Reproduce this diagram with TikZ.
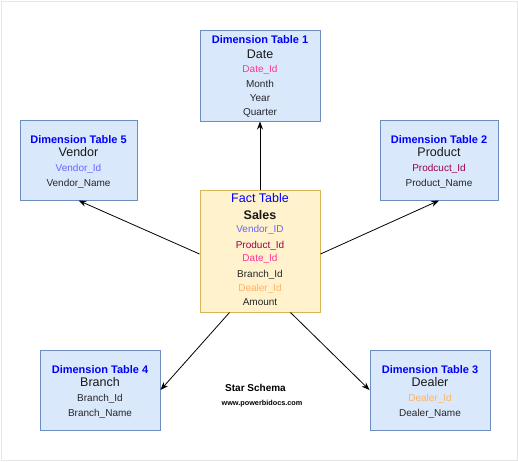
\documentclass[tikz,border=0pt]{standalone}
\usepackage{fontspec}
\setmainfont{Liberation Sans}
\usepackage{tikz}
\usetikzlibrary{arrows.meta}

\definecolor{dimfill}{HTML}{DAE8FC}
\definecolor{dimline}{HTML}{6C8EBF}
\definecolor{factfill}{HTML}{FFF2CC}
\definecolor{factline}{HTML}{D6B656}
\definecolor{headblue}{HTML}{0000FF}
\definecolor{vendorcol}{HTML}{6666FF}
\definecolor{productcol}{HTML}{99004D}
\definecolor{datecol}{HTML}{FF3399}
\definecolor{dealercol}{HTML}{FFB366}
\definecolor{framecol}{HTML}{E6E6E6}

\begin{document}
\begin{tikzpicture}[x=1pt, y=-1pt,
    dimbox/.style={draw=dimline, fill=dimfill, line width=1pt, inner sep=0pt},
    factbox/.style={draw=factline, fill=factfill, line width=1pt, inner sep=0pt},
    head/.style={anchor=base, inner sep=0pt, text=headblue, font=\fontsize{11}{13}\selectfont\bfseries},
    tname/.style={anchor=base, inner sep=0pt, text=black!90, font=\fontsize{12.5}{14}\selectfont},
    field/.style={anchor=base, inner sep=0pt, text=black!85, font=\fontsize{10}{12}\selectfont},
    link/.style={-{Stealth[length=8pt, width=6pt]}, line width=0.8pt}]
\useasboundingbox (0,0) rectangle (518,461);
\draw[framecol] (1,1) rectangle (517,460);

% dimension table 1
\node[dimbox, minimum width=120, minimum height=91] (date) at (260,75.5) {};
\node[head] (datehead) at (260,43) {Dimension Table 1};
\node[tname] (datename) at (260,58) {Date};
\node[field, text=datecol] (dateid) at (260,72) {Date\_Id};
\node[field] (datemonth) at (260,87.5) {Month};
\node[field] (dateyear) at (260,101) {Year};
\node[field] (datequarter) at (260,115.5) {Quarter};

% dimension table 5
\node[dimbox, minimum width=117, minimum height=80] (vendor) at (78.5,160) {};
\node[head] (vendorhead) at (78.5,143) {Dimension Table 5};
\node[tname] (vendorname) at (78.5,156.5) {Vendor};
\node[field, text=vendorcol] (vendorid) at (78.5,171.5) {Vendor\_Id};
\node[field] (vendorfield) at (78.5,186.5) {Vendor\_Name};

% dimension table 2
\node[dimbox, minimum width=118, minimum height=80] (product) at (439,160) {};
\node[head] (producthead) at (439,143) {Dimension Table 2};
\node[tname] (productname) at (439,156.5) {Product};
\node[field, text=productcol] (productid) at (439,171.5) {Prodcuct\_Id};
\node[field] (productfield) at (439,186.5) {Product\_Name};

% dimension table 4
\node[dimbox, minimum width=120, minimum height=80] (branch) at (100,390) {};
\node[head] (branchhead) at (100,373) {Dimension Table 4};
\node[tname] (branchname) at (100,386.5) {Branch};
\node[field] (branchid) at (100,401.5) {Branch\_Id};
\node[field] (branchfield) at (100,416.5) {Branch\_Name};

% dimension table 3
\node[dimbox, minimum width=120, minimum height=80] (dealer) at (430,390) {};
\node[head] (dealerhead) at (430,373) {Dimension Table 3};
\node[tname] (dealername) at (430,386.5) {Dealer};
\node[field, text=dealercol] (dealerid) at (430,401.5) {Dealer\_Id};
\node[field] (dealerfield) at (430,416.5) {Dealer\_Name};

% fact table
\node[factbox, minimum width=120, minimum height=122] (fact) at (260,251) {};
\node[tname, text=headblue] (facthead) at (260,202.5) {Fact Table};
\node[tname, font=\fontsize{12.5}{14}\selectfont\bfseries] (factname) at (260,219.5) {Sales};
\node[field, text=vendorcol] (factvendor) at (260,232.5) {Vendor\_ID};
\node[field, text=productcol] (factproduct) at (260,248.5) {Product\_Id};
\node[field, text=datecol] (factdate) at (260,261.5) {Date\_Id};
\node[field] (factbranch) at (260,277.5) {Branch\_Id};
\node[field, text=dealercol] (factdealer) at (260,291.5) {Dealer\_Id};
\node[field] (factamount) at (260,305.5) {Amount};

% caption
\node[anchor=base, inner sep=0pt, font=\fontsize{10}{12}\selectfont\bfseries] (caption) at (255.5,391) {Star Schema};
\node[anchor=base, inner sep=0pt, font=\fontsize{7.3}{9}\selectfont\bfseries] (site) at (262,405) {www.powerbidocs.com};

\draw[link] (fact.north) -- (date.south);
\draw[link] ([yshift=-3pt]fact.west) -- (vendor.south);
\draw[link] ([yshift=-3pt]fact.east) -- (product.south);
\draw[link] ([xshift=30pt]fact.south west) -- (branch.east);
\draw[link] ([xshift=-30pt]fact.south east) -- (dealer.west);
\end{tikzpicture}
\end{document}
